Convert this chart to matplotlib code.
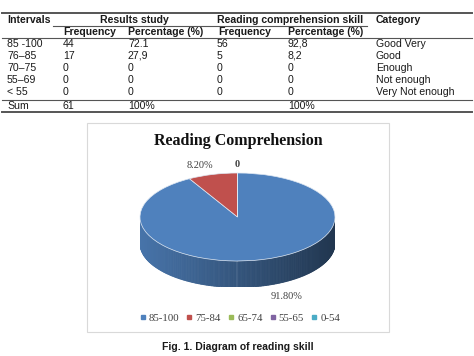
import matplotlib
matplotlib.use("Agg")
import matplotlib.pyplot as plt
import numpy as np
from matplotlib.lines import Line2D
from matplotlib.patches import Rectangle, Polygon

W, H = 474, 356

# table data
col_heads = ["Intervals", "Results study", "Reading comprehension skill", "Category"]
sub_heads = ["Frequency", "Percentage (%)", "Frequency", "Percentage (%)"]
intervals = ["85 -100", "76\u201385", "70\u201375", "55\u201369", "< 55", "Sum"]
freq_study = ["44", "17", "0", "0", "0", "61"]
pct_study = ["72.1", "27,9", "0", "0", "0", "100%"]
freq_read = ["56", "5", "0", "0", "0", ""]
pct_read = ["92,8", "8,2", "0", "0", "0", "100%"]
category = ["Good Very", "Good", "Enough", "Not enough", "Very Not enough", ""]

# pie data
pie_labels = ["85-100", "75-84", "65-74", "55-65", "0-54"]
pie_values = [91.8, 8.2, 0, 0, 0]
pie_colors = ["#4f81bd", "#c0504d", "#9bbb59", "#8064a2", "#4bacc6"]

fig = plt.figure(figsize=(W / 100, H / 100), dpi=100)


def fx(x):
    return x / W


def fy(y):
    return 1 - y / H


def hline(x0, x1, y, lw=0.8, c="#555555"):
    fig.add_artist(Line2D([fx(x0), fx(x1)], [fy(y), fy(y)], lw=lw, color=c))


tfont = dict(family="Liberation Sans", fontsize=7.6, color="#1a1a1a", va="center")

# header
fig.text(fx(7), fy(20), col_heads[0], fontweight="bold", **tfont)
fig.text(fx(134), fy(20), col_heads[1], fontweight="bold", ha="center", **tfont)
fig.text(fx(290), fy(20), col_heads[2], fontweight="bold", ha="center", **tfont)
fig.text(fx(376), fy(20), col_heads[3], fontweight="bold", **tfont)
col_x = [63, 128, 218, 288]
for x, s in zip(col_x, sub_heads):
    fig.text(fx(x), fy(32), s, fontweight="bold", **tfont)

row_y = [44, 56, 68, 80, 92, 106]
for i, y in enumerate(row_y):
    fig.text(fx(7), fy(y), intervals[i], **tfont)
    fig.text(fx(63), fy(y), freq_study[i], **tfont)
    fig.text(fx(128), fy(y), pct_study[i], **tfont)
    fig.text(fx(217), fy(y), freq_read[i], **tfont)
    fig.text(fx(288), fy(y), pct_read[i], **tfont)
    fig.text(fx(376), fy(y), category[i], **tfont)

hline(2, 472, 13, lw=1.4)
hline(53, 367, 25.5, lw=0.8)
hline(2, 472, 37.5, lw=0.8)
hline(2, 472, 99.5, lw=0.8)
hline(2, 472, 112, lw=1.4)

# chart box
fig.add_artist(Rectangle((fx(87), fy(332)), fx(389) - fx(87), fy(123) - fy(332),
                         fill=False, ec="#d9d9d9", lw=0.8))
fig.text(fx(238), fy(141), "Reading Comprehension", family="Liberation Serif",
         fontweight="bold", fontsize=11.5, ha="center", va="center", color="#111111")

# pie (3d look)
ry, depth = 44, 0.6
left, right, top = 140, 335, 173
bottom = top + ry * (2 + depth)
ax = fig.add_axes([fx(left), fy(bottom), fx(right) - fx(left), fy(top) - fy(bottom)])
wedges, _ = ax.pie(pie_values, colors=pie_colors, startangle=90, counterclock=False,
                   radius=1, wedgeprops=dict(ec="#dfe8f3", lw=0.5))
ax.set_aspect("auto")
ax.set_xlim(-1, 1)
ax.set_ylim(-1 - depth, 1)
ax.axis("off")


def shade(c, f):
    c = np.array(matplotlib.colors.to_rgb(c))
    return tuple(c * f)


for w, c in zip(wedges, pie_colors):
    for k in (-360, 0, 360):
        a0 = max(w.theta1 + k, -180)
        a1 = min(w.theta2 + k, 0)
        if a1 <= a0:
            continue
        ts = np.linspace(a0, a1, int(a1 - a0) + 2)
        for t0, t1 in zip(ts[:-1], ts[1:]):
            xs = np.cos(np.radians([t0, t1]))
            ys = np.sin(np.radians([t0, t1]))
            f = 0.9 - 0.48 * (np.cos(np.radians((t0 + t1) / 2)) + 1) / 2
            poly = Polygon([(xs[0], ys[0]), (xs[1], ys[1]), (xs[1], ys[1] - depth),
                            (xs[0], ys[0] - depth)], closed=True, fc=shade(c, f),
                           ec=shade(c, f), lw=0.6, zorder=0.5)
            ax.add_patch(poly)
for w in wedges:
    w.set_zorder(2)

# data labels
tot = sum(pie_values)
done_zero = False
for w, v in zip(wedges, pie_values):
    mid = np.radians((w.theta1 + w.theta2) / 2)
    lx, ly = 1.2 * np.cos(mid), 1.2 * np.sin(mid)
    if v == 0:
        if done_zero:
            continue
        done_zero = True
        txt = "0"
    else:
        txt = f"{v / tot * 100:.2f}%"
    if ly < 0:
        ly -= depth + 0.05
        lx += 0.2
    elif v > 0:
        lx -= 0.08
    ax.text(lx, ly, txt, ha="center", va="center", family="Liberation Serif",
            fontsize=7.5, color="#404040", fontweight="bold" if v == 0 else "normal")

handles = [Line2D([], [], marker="s", ls="none", color=c, markersize=3) for c in pie_colors]
fig.legend(handles, pie_labels, loc="center", bbox_to_anchor=(fx(240), fy(318)), ncol=5,
           frameon=False, prop=dict(family="Liberation Serif", size=7.8),
           handlelength=0.5, handletextpad=0.3, columnspacing=0.7, labelcolor="#404040")

fig.text(fx(238), fy(347), "Fig. 1. Diagram of reading skill", family="Liberation Sans",
         fontweight="bold", fontsize=7.5, ha="center", va="center", color="#1a1a1a")

fig.savefig("out.png", dpi=100)
